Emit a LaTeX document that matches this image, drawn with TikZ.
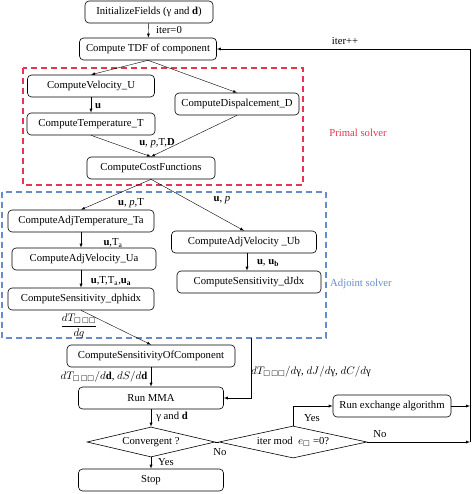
\documentclass[tikz,border=0pt]{standalone}
\usepackage{amsmath}
\usepackage{amssymb}
\usepackage{fontspec}
\setmainfont{Liberation Serif}
\usetikzlibrary{shapes.geometric,arrows}
\definecolor{primalred}{RGB}{232,52,78}
\definecolor{adjblue}{RGB}{102,140,204}
\newcommand{\Tsub}{T_{\square\,\square\square}}

\begin{document}
\begin{tikzpicture}[->,>=latex,x=1pt,y=-1pt,font=\fontsize{10.7}{12.5}\selectfont]
\tikzstyle{proc} = [rectangle, draw, rounded corners=4pt, minimum height=22pt, inner sep=2pt, line width=0.6pt]
\tikzstyle{decide} = [diamond, draw, inner sep=0pt, line width=0.6pt]
\tikzstyle{lbl} = [inner sep=1pt]
\tikzstyle{frame} = [-, dash pattern=on 6pt off 4pt, line width=1.1pt]
\useasboundingbox (0,0) rectangle (474,494);

% solver frames
\draw[frame, primalred] (23,68) rectangle (303,185);
\draw[frame, adjblue] (2,192) rectangle (326,338);
\node[lbl, text=primalred] (primal) at (358,133) {Primal solver};
\node[lbl, text=adjblue] (adjoint) at (361,284) {Adjoint solver};

% flow nodes
\node[proc, minimum width=128pt] (init) at (149,12) {InitializeFields (γ and \textbf{d})};
\node[proc, minimum width=137pt] (tdf) at (148,49) {Compute TDF of component};
\node[proc, minimum width=127pt] (vel) at (91,86) {ComputeVelocity\_U};
\node[proc, minimum width=128pt] (temp) at (91,124) {ComputeTemperature\_T};
\node[proc, minimum width=124pt] (disp) at (237,104) {ComputeDispalcement\_D};
\node[proc, minimum width=128pt] (cost) at (151,168) {ComputeCostFunctions};
\node[proc, minimum width=146pt] (adjT) at (81,221) {ComputeAdjTemperature\_Ta};
\node[proc, minimum width=144pt] (adjUa) at (84,259) {ComputeAdjVelocity\_Ua};
\node[proc, minimum width=146pt] (dphi) at (81,299) {ComputeSensitivity\_dphidx};
\node[proc, minimum width=145pt] (adjUb) at (244,242) {ComputeAdjVelocity \_Ub};
\node[proc, minimum width=144pt] (dJ) at (249,282) {ComputeSensitivity\_dJdx};
\node[proc, minimum width=168pt] (soc) at (151,356) {ComputeSensitivityOfComponent};
\node[proc, minimum width=145pt] (mma) at (151,398) {Run MMA};
\node[decide, aspect=4.27, minimum width=128pt, minimum height=30pt] (conv) at (151,442) {Convergent ?};
\node[proc, minimum width=145pt] (stop) at (151,480) {Stop};
\node[decide, aspect=4.6, minimum width=148pt, minimum height=32pt] (imod) at (293,442) {iter mod \ $e_{\square}$ =0?};
\node[proc, minimum width=118pt] (exch) at (392,406) {Run exchange algorithm};
\coordinate (adjb) at (251,338);
\coordinate (rb) at (470,442);
\coordinate (rt) at (470,49);

% connectors
\draw (init) -- (tdf);
\draw (tdf.south) -- (vel.north);
\draw (tdf.south) -- (disp.north);
\draw (vel) -- (temp);
\draw (temp.south) -- (cost.north);
\draw (disp.south) -- (cost.north);
\draw (cost.south) -- (adjT.north);
\draw (cost.south) -- (adjUb.north);
\draw (adjT.south) -- (adjT.south |- adjUa.north);
\draw (adjT.south |- adjUa.south) -- (adjT.south |- dphi.north);
\draw ([xshift=3pt]adjUb.south) -- ([xshift=3pt]adjUb.south |- dJ.north);
\draw (dphi.south) -- (soc.north);
\draw (soc) -- (mma);
\draw (adjb) -- (adjb |- mma.east) -- (mma.east);
\draw (mma) -- (conv);
\draw (conv) -- (stop);
\draw[-] (conv.east) -- (imod.west);
\draw (imod.north) |- (exch.west);
\draw (exch.east) -- (exch.east -| rb);
\draw (imod.east) -- (rb);
\draw (rb) -- (rt) -- (tdf.east);

% edge labels
\node[lbl, anchor=west] (l0) at (155,30) {iter=0};
\node[lbl] (l1) at (98,106) {\textbf{u}};
\node[lbl] (l2) at (157,143) {\textbf{u}, \textit{p},T,\textbf{D}};
\node[lbl] (l3) at (131,203) {\textbf{u}, \textit{p},T};
\node[lbl] (l4) at (222,200) {\textbf{u}, \textit{p}};
\node[lbl] (l5) at (113,243) {\textbf{u},T$_\mathrm{a}$};
\node[lbl] (l6) at (111,281) {\textbf{u},T,T$_\mathrm{a}$,\textbf{u}$_\mathbf{a}$};
\node[lbl] (l7) at (268,263) {\textbf{u}, \textbf{u}$_\mathbf{b}$};
\node[lbl] (l8) at (79,326) {$\dfrac{d\Tsub}{dq}$};
\node[lbl] (l9) at (104,377) {$d\Tsub/d\mathbf{d}$, $dS/d\mathbf{d}$};
\node[lbl] (l10) at (311,372) {$d\Tsub/d\text{γ}$, $dJ/d\text{γ}$, $dC/d\text{γ}$};
\node[lbl] (l11) at (172,417) {γ and $\mathbf{d}$};
\node[lbl] (l12) at (166,462) {Yes};
\node[lbl] (l13) at (220,452) {No};
\node[lbl] (l14) at (312,418) {Yes};
\node[lbl] (l15) at (380,434) {No};
\node[lbl] (l16) at (345,41) {iter++};
\end{tikzpicture}
\end{document}
